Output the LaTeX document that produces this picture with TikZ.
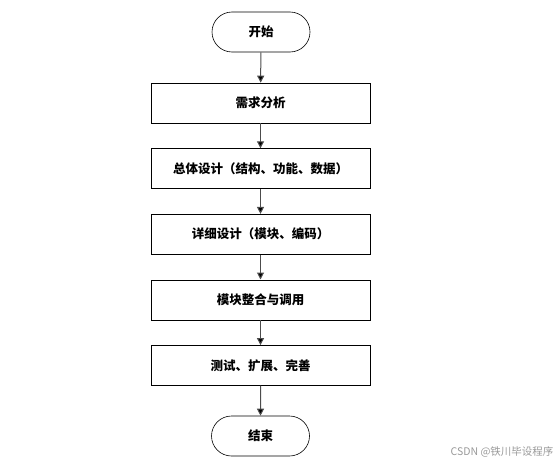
\documentclass[tikz,border=0pt]{standalone}
\usepackage{fontspec}
\setmainfont{Liberation Sans}
\newfontfamily\cjk{Noto Sans CJK SC}
\usetikzlibrary{positioning, arrows.meta, shapes.misc}

\begin{document}
\begin{tikzpicture}[x=1pt,y=-1pt,>={Triangle[length=7pt,width=7pt,fill=black]},
                    node distance=25pt,
                    every node/.style={font=\cjk\bfseries\fontsize{12.5}{14}\selectfont},
                    flow/.style={->,draw=black!70,line width=1pt},
                    stage/.style={draw,line width=0.6pt,minimum width=219pt,minimum height=40pt,inner sep=0pt},
                    terminal/.style={draw,line width=0.6pt,rounded rectangle,minimum width=98pt,minimum height=40pt,inner sep=0pt}]
                    \useasboundingbox (0,0) rectangle (559,463);
                    \node[terminal] (start) at (261,32) {开始};
                    \node[stage] (req) at (260.5,103) {需求分析};
                    \node[stage] (overall) [below=of req] {总体设计（结构、功能、数据）};
                    \node[stage] (detail) [below=of overall] {详细设计（模块、编码）};
                    \node[stage] (merge) [below=of detail] {模块整合与调用};
                    \node[stage] (test) [below=of merge] {测试、扩展、完善};
                    \node[terminal] (stop) [below=30pt of test] {结束};
                    \node[anchor=east,text=black!40,font=\cjk\fontsize{10.5}{12}\selectfont] (mark) at (557,452) {CSDN @铁川毕设程序};
                    
                    \draw[flow] (start) -- (req);
                    \draw[flow] (req) -- (overall);
                    \draw[flow] (overall) -- (detail);
                    \draw[flow] (detail) -- (merge);
                    \draw[flow] (merge) -- (test);
                    \draw[flow] (test) -- (stop);
                \end{tikzpicture}
\end{document}
